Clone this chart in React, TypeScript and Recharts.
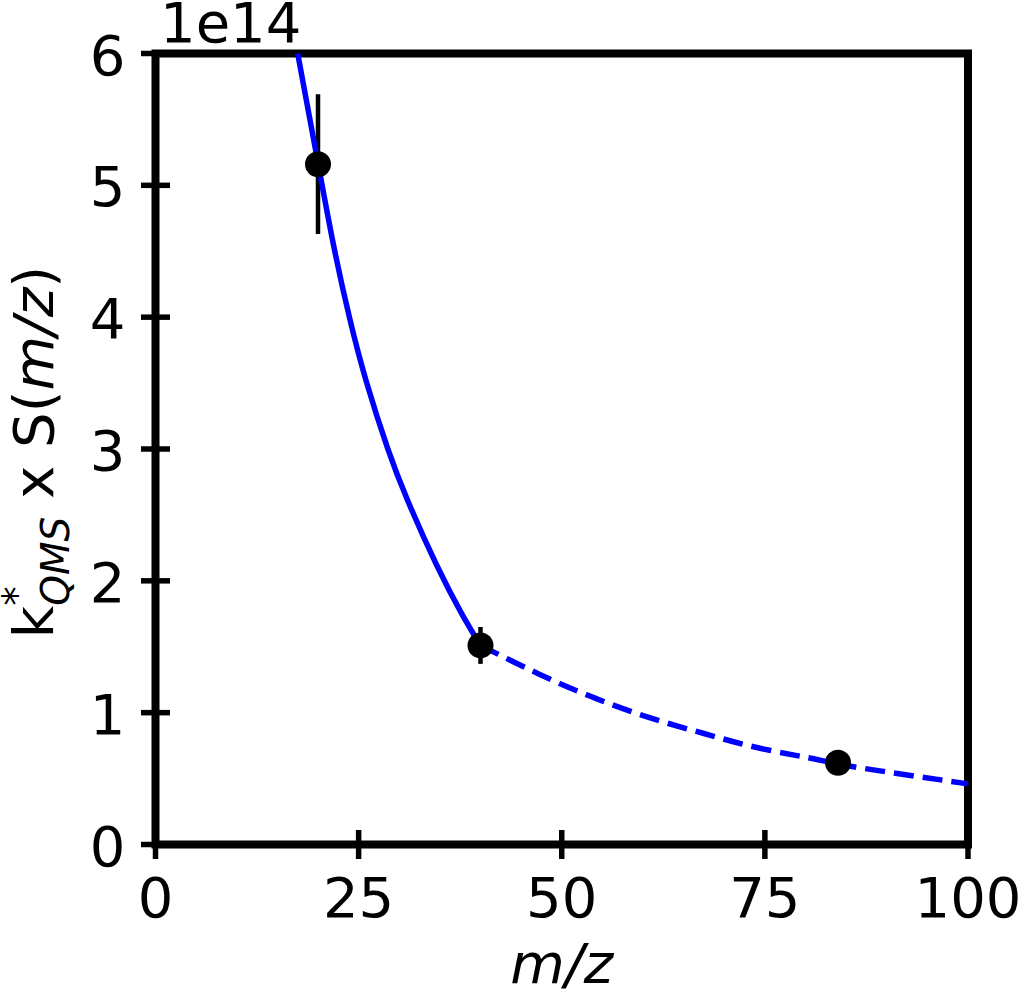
import { ComposedChart, Line, Scatter, ErrorBar, XAxis, YAxis, ReferenceArea } from 'recharts';

// measured points (units of 1e14)
const pointMz = [20, 40, 84];
const pointVal = [5.16, 1.51, 0.62];
const pointErr = [0.53, 0.14, 0];

// fitted curve: solid part, then dashed extrapolation
const solidMz = [17.5, 20, 21.9, 23.9, 26, 28.6, 31.1, 34.6, 37.7, 40];
const solidVal = [6.0, 5.17, 4.55, 3.99, 3.5, 3.0, 2.6, 2.12, 1.75, 1.51];
const dashMz = [40, 47.3, 54.1, 60.9, 67.6, 74.4, 81, 85.9, 100];
const dashVal = [1.51, 1.29, 1.11, 0.96, 0.84, 0.73, 0.65, 0.59, 0.46];

const xTicks = [0, 25, 50, 75, 100];
const yTicks = [0, 1, 2, 3, 4, 5, 6];

const points = pointMz.map((x, i) => ({ x, y: pointVal[i], err: pointErr[i] }));
const solid = solidMz.map((x, i) => ({ x, y: solidVal[i] }));
const dashed = dashMz.map((x, i) => ({ x, y: dashVal[i] }));

const FONT = 'DejaVu Sans';
const FS = 56;

const XTick = (props: any) => {
  const { x, y, payload } = props;
  return (
    <g>
      <line x1={x} x2={x} y1={y - 14.5} y2={y + 14.5} stroke="#000" strokeWidth={5.5} />
      <text x={x} y={y + 72} textAnchor="middle" fontFamily={FONT} fontSize={FS} fill="#000">
        {payload.value}
      </text>
    </g>
  );
};

const YTick = (props: any) => {
  const { x, y, payload } = props;
  return (
    <g>
      <line x1={x - 14.5} x2={x + 14.5} y1={y} y2={y} stroke="#000" strokeWidth={5.5} />
      <text x={x - 30} y={y + 21} textAnchor="end" fontFamily={FONT} fontSize={FS} fill="#000">
        {payload.value}
      </text>
    </g>
  );
};

const YLabel = (props: any) => {
  const vb = props.viewBox || { x: 0, y: 0, width: 0, height: 0 };
  const cx = vb.x + vb.width - 102.5;
  const cy = vb.y + vb.height / 2 + 3;
  return (
    <text
      x={cx}
      y={cy}
      transform={`rotate(-90, ${cx}, ${cy})`}
      textAnchor="middle"
      fontFamily={FONT}
      fontSize={FS}
      fill="#000"
    >
      <tspan>k</tspan>
      <tspan fontSize={39} dy={-23}>*</tspan>
      <tspan fontSize={39} fontStyle="italic" dx={-19.5} dy={39}>QMS</tspan>
      <tspan dy={-16}> x S(</tspan>
      <tspan fontStyle="italic">m/z</tspan>
      <tspan>)</tspan>
    </text>
  );
};

const XLabel = (props: any) => {
  const vb = props.viewBox || { x: 0, y: 0, width: 0, height: 0 };
  return (
    <text
      x={vb.x + vb.width / 2}
      y={983}
      textAnchor="middle"
      fontFamily={FONT}
      fontSize={FS}
      fontStyle="italic"
      fill="#000"
    >
      m/z
    </text>
  );
};

const Dot = (props: any) => <circle cx={props.cx} cy={props.cy} r={13} fill="#000" />;

export default function App() {
  return (
    <div style={{ position: 'absolute', left: 0, top: 0, background: '#fff' }}>
      <ComposedChart
        width={1020}
        height={992}
        margin={{ top: 53.5, right: 52, bottom: 117.5, left: 95.5 }}
      >
        <XAxis
          type="number"
          dataKey="x"
          domain={[0, 100]}
          ticks={xTicks}
          height={30}
          axisLine={false}
          tickLine={false}
          tickSize={0}
          tickMargin={0}
          tick={<XTick />}
          interval={0}
          label={<XLabel />}
        />
        <YAxis
          type="number"
          domain={[0, 6]}
          ticks={yTicks}
          width={60}
          axisLine={false}
          tickLine={false}
          tickSize={0}
          tickMargin={0}
          tick={<YTick />}
          interval={0}
          label={<YLabel />}
        />
        <Scatter data={points} dataKey="y" shape={<Dot />} isAnimationActive={false}>
          <ErrorBar dataKey="err" direction="y" width={0} stroke="#000" strokeWidth={4.5} />
        </Scatter>
        <Line
          data={solid}
          dataKey="y"
          type="natural"
          stroke="#0000ff"
          strokeWidth={5.5}
          dot={false}
          activeDot={false}
          isAnimationActive={false}
        />
        <Line
          data={dashed}
          dataKey="y"
          type="natural"
          stroke="#0000ff"
          strokeWidth={5.5}
          strokeDasharray="20 9"
          dot={false}
          activeDot={false}
          isAnimationActive={false}
        />
        <ReferenceArea x1={0} x2={100} y1={0} y2={6} fill="none" stroke="#000" strokeWidth={8} />
      </ComposedChart>
      <div
        style={{
          position: 'absolute',
          left: 160,
          top: 43 - 52,
          fontFamily: FONT,
          fontSize: FS,
          lineHeight: '64px',
          color: '#000',
        }}
      >
        1e14
      </div>
    </div>
  );
}
